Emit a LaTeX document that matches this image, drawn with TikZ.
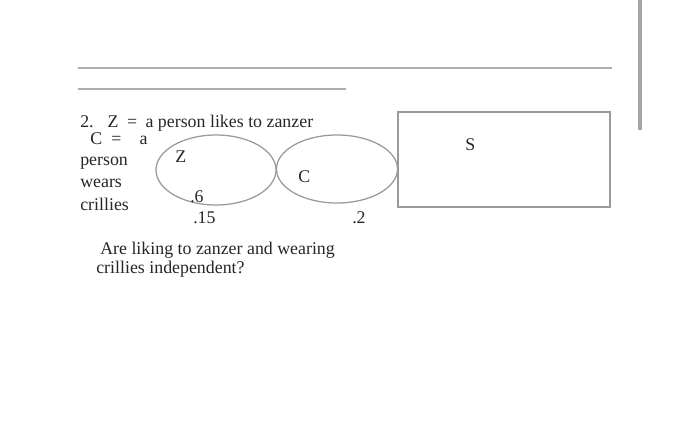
\documentclass[tikz,border=0pt]{standalone}
\usepackage{fontspec}
\setmainfont{Liberation Serif}
\usetikzlibrary{shapes.geometric}

\definecolor{inkgray}{HTML}{262626}
\definecolor{rulegray}{HTML}{9A9A9A}

\tikzset{
  txt/.style={anchor=base west, inner sep=0pt, text=inkgray, font=\fontsize{12.7}{14}\selectfont},
  setline/.style={draw=rulegray, line width=0.9pt},
  rulerline/.style={draw=rulegray!80, line width=1.4pt}
}

\begin{document}
\begin{tikzpicture}[x=0.025cm, y=-0.025cm]
    \useasboundingbox (0,0) rectangle (700,421);

    % answer lines
    \draw[rulerline] (78,68) -- (612,68);
    \draw[rulerline] (78,89) -- (346,89);
    % scroll bar
    \draw[draw=gray!70, line width=2.6pt] (640,0) -- (640,130);

    % question text
    \node[txt] (q) at (80,128) {2.\hspace{10pt}Z\hspace{6pt}=\hspace{6pt}a person likes to zanzer};
    \node[txt] (c1) at (90,144) {C\hspace{6.5pt}=\hspace{13pt}a};
    \node[txt] (c2) at (80,165) {person};
    \node[txt] (c3) at (80,187) {wears};
    \node[txt] (c4) at (80,210) {crillies};

    % Venn diagram
    \node[setline, ellipse, minimum width=120*0.025cm, minimum height=70*0.025cm] (zset) at (216,170) {};
    \node[setline, ellipse, minimum width=121*0.025cm, minimum height=68*0.025cm] (cset) at (337,169) {};
    \node[setline, rectangle, minimum width=212*0.025cm, minimum height=95*0.025cm] (space) at (504,159.5) {};

    \node[txt] (zlab) at (175,162) {Z};
    \node[txt] (clab) at (298,182) {C};
    \node[txt] (slab) at (465,150) {S};
    \node[txt] (p6) at (190,202) {.6};
    \node[txt] (p15) at (193,223) {.15};
    \node[txt] (p2) at (352,223) {.2};

    \node[txt] (a1) at (100,254) {Are liking to zanzer and wearing};
    \node[txt] (a2) at (96,273) {crillies independent?};
\end{tikzpicture}
\end{document}
